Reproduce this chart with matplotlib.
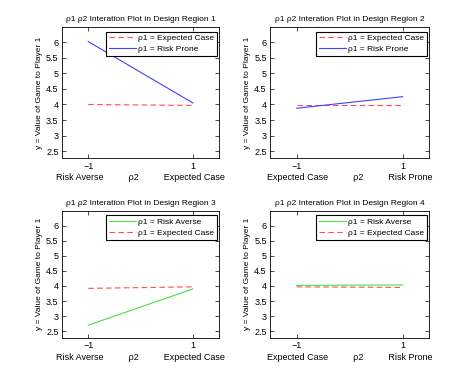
import matplotlib.pyplot as plt
from matplotlib.ticker import FormatStrFormatter

plt.rcParams['font.family'] = ['Liberation Sans', 'DejaVu Sans']
plt.rcParams['font.size'] = 6

# rho2 levels (x values)
rho2 = [-1, 1]

# Region 1: rho2 from Risk Averse to Expected Case
reg1_expected = [4.00, 3.97]
reg1_prone = [6.02, 4.05]
# Region 2: rho2 from Expected Case to Risk Prone
reg2_expected = [3.97, 3.97]
reg2_prone = [3.88, 4.25]
# Region 3
reg3_averse = [2.70, 3.90]
reg3_expected = [3.92, 3.97]
# Region 4
reg4_averse = [4.02, 4.03]
reg4_expected = [3.97, 3.95]

end_labels = [("Risk Averse", "Expected Case"), ("Expected Case", "Risk Prone"),
              ("Risk Averse", "Expected Case"), ("Expected Case", "Risk Prone")]
yticks = [2.5, 3, 3.5, 4, 4.5, 5, 5.5, 6]

# MATLAB-like line styles
exp_style = dict(color='#ff4d4d', linestyle=(0, (5, 3)), linewidth=0.8, label='\u03c11 = Expected Case')
prone_style = dict(color='#4040ff', linewidth=0.8, label='\u03c11 = Risk Prone')
averse_style = dict(color='#44e044', linewidth=0.8, label='\u03c11 = Risk Averse')

fig = plt.figure(figsize=(4.74, 3.8), dpi=100)
positions = [
    [0.131, 0.584, 0.331, 0.346],
    [0.570, 0.584, 0.335, 0.346],
    [0.131, 0.111, 0.331, 0.335],
    [0.570, 0.111, 0.335, 0.335],
]
axes = [fig.add_axes(p) for p in positions]

axes[0].plot(rho2, reg1_expected, **exp_style)
axes[0].plot(rho2, reg1_prone, **prone_style)
axes[1].plot(rho2, reg2_expected, **exp_style)
axes[1].plot(rho2, reg2_prone, **prone_style)
axes[2].plot(rho2, reg3_averse, **averse_style)
axes[2].plot(rho2, reg3_expected, **exp_style)
axes[3].plot(rho2, reg4_averse, **averse_style)
axes[3].plot(rho2, reg4_expected, **exp_style)

gap = ' ' * 10
for i, ax in enumerate(axes):
    ax.set_xlim(-1.5, 1.5)
    ax.set_ylim(2.28, 6.5)
    ax.set_xticks(rho2)
    ax.set_xticklabels(['\u22121', '1'])
    ax.set_yticks(yticks)
    ax.yaxis.set_major_formatter(FormatStrFormatter('%g'))
    ax.tick_params(direction='in', top=True, right=True, length=3, width=0.5,
                   pad=2.5, labelsize=6.5)
    for sp in ax.spines.values():
        sp.set_linewidth(0.6)
    left, right = end_labels[i]
    ax.set_xlabel(f"{left}{gap}\u03c12{gap}{right}", fontsize=6.5, labelpad=2)
    ax.set_ylabel("y = Value of Game to Player 1", labelpad=2)
    ax.set_title(f"\u03c11 \u03c12 Interation Plot in Design Region {i + 1}", fontsize=6, pad=4)
    leg = ax.legend(loc='upper right', bbox_to_anchor=(0.988, 0.962), borderaxespad=0,
                    handlelength=3.2, fancybox=False, framealpha=1, edgecolor='black',
                    borderpad=0.35, labelspacing=0.35, handletextpad=0.3)
    leg.get_frame().set_linewidth(0.8)

plt.savefig("out.png", dpi=100)
